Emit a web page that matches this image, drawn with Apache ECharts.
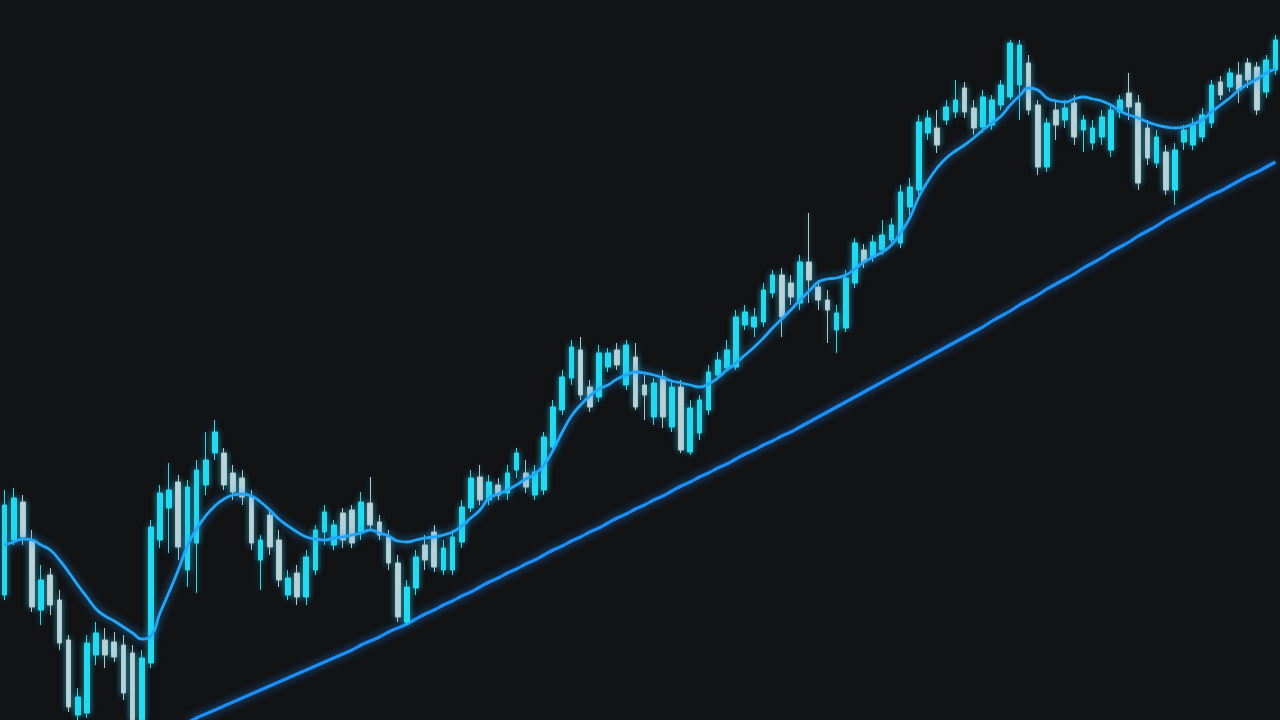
<!DOCTYPE html>
<html>
<head>
<meta charset="utf-8">
<style>
  html, body { margin: 0; padding: 0; background: #121315; }
  #chart { width: 1280px; height: 720px; }
</style>
<script src="https://cdn.jsdelivr.net/npm/echarts@6/dist/echarts.min.js"></script>
</head>
<body>
<div id="chart"></div>
<script>
// Candle values (price units)
const opens  = [125,180,218,180,110,145,120,80,5,7,65,80,78,75,67,0,57,180,212,238,150,177,235,267,267,247,242,223,160,205,180,125,147,123,150,188,175,207,210,188,217,198,183,157,98,132,175,188,150,150,178,212,243,220,
  235, 227,250,247,225,230,273,310,342, 370,333,323,353, 370,335,363,335,303,343,293,333,268,287,310, 345, 352,353,395,393,398,427,445,437,417,458,433,420,390,392,437, 470, 463,470, 480, 477,513,530,587,592,600,608,632,612,593,595, 615, 623,635,657,615,553,610, 600, 617,590,577,583,570, 608, 627, 617, 592,557,568,530,578,575,583,597, 638, 633,645,657,653,628,650];
const closes = [215,222,183,113,140,115,77,13,23,77,87,65,63,27,0,62,193,227,230,173,233,250,260,288,235,228,223,177,180,173,140,142,123,163,190,208,195,180,177,218,195,185,157,103,133,163,160,153,172,183,213,242,220,238,
  225, 247,267,233,248,283,313,343,373, 325,313,367,367, 355,375,313,325,337,303,333,270,312,320,348, 360, 370,403,408,403,430,445,403,423,458,440,420,410,407,442,477, 458, 478,485, 495, 528,533,598,602,575,613,620,608,592,623,620, 635, 677,675,610,553,597,595, 612, 583,600,592,603,610, 620, 613, 537, 562,583,530,570,590,595,605,635, 625, 647,630,640,610,660,680];
const lows   = [120,175,175,108,95,105,70,8,0,2,55,52,58,20,-2,-2,52,172,167,160,133,127,225,260,230,220,215,170,130,165,133,120,115,115,145,175,170,172,172,180,190,180,150,98,95,125,150,148,145,145,172,208,215,215,
  220, 220,242,227,220,225,268,305,335, 320,308,318,348, 350,330,310,300,295,292,288,267,265,280,305, 340, 348,350,390,383,393,422,383,415,410,417,410,377,367,388,432, 452, 458,465, 474, 472,505,525,580,567,595,602,602,585,587,590, 610, 620,600,605,545,548,580, 592, 575,568,570,575,563, 602, 600, 530, 555,552,525,515,570,570,578,592, 620, 628,617,632,605,622,645];
const highs  = [230,232,225,190,155,152,130,85,32,85,98,92,88,85,75,70,200,235,257,245,240,260,288,300,272,255,250,230,185,212,190,150,155,170,195,215,200,212,215,228,243,205,190,165,140,170,185,195,180,190,220,250,255,245,
  242, 255,272,260,255,288,320,350,380, 383,340,375,372, 377,380,377,345,342,350,340,340,320,325,355, 368, 380,410,415,412,437,450,452,445,465,507,440,430,415,450,482, 476, 485,500, 502, 535,542,605,610,610,620,640,638,620,630,625, 640, 680,680,665,620,602,620, 620, 625,605,600,610,615, 625, 647, 625, 600,590,575,577,595,602,612,640, 644, 652,658,662,658,665,685];

// Short moving average line
const maLine = [175,178,181,180,175,170,160,148,135,123,111,104,99,93,87,81,84,107,128,150,174,191,204,214,221,225,226,224,218,210,201,194,188,183,181,180,182,183,185,187,190,187,184,179,178,180,182,183,185,188,194,202,210,222,226,230,235,241,246,255,270,288,304,315,324,331,335,341,345,348,347,345,342,339,337,335,333,336,342,350,357,365,373,382,392,401,410,420,429,438,441,442,445,451,458,463,468,475,487,502,523,539,552,562,569,575,582,590,597,604,615,624,632,630,622,619,618,621,623,621,619,615,609,605,602,598,595,593,592,593,596,600,608,615,622,630,636,641,647,651];

// Long trend line (enters at candle 20)
const trendLine = [null,null,null,null,null,null,null,null,null,null,null,null,null,null,null,null,null,null,null,null,
  -3,2,6,10,14,18,22,26,30,34,38,42,46,50,54,58,62,66,70,75,79,83,88,92,96,101,106,110,115,119,124,128,133,138,142,147,151,156,160,165,170,174,179,183,188,192,197,202,206,211,215,220,224,229,234,238,243,247,252,256,261,266,270,275,279,284,288,293,298,303,308,313,318,323,328,333,338,343,348,353,358,363,368,373,378,383,388,393,399,404,409,415,420,425,431,436,441,446,452,457,462,468,473,478,484,489,494,500,505,510,515,520,525,529,534,539,544,548,553,558];

const categories = opens.map((_, i) => 'D' + (i + 1));
const candleData = opens.map((o, i) => [o, closes[i], lows[i], highs[i]]);

const chart = echarts.init(document.getElementById('chart'), null, { renderer: 'canvas' });
chart.setOption({
  backgroundColor: '#121315',
  animation: false,
  grid: { left: 0, right: 0, top: 0, bottom: 0 },
  xAxis: {
    type: 'category',
    data: categories,
    show: false,
    boundaryGap: true
  },
  yAxis: {
    type: 'value',
    min: 0,
    max: 720,
    show: false,
    splitLine: { show: false }
  },
  series: [
    {
      type: 'line',
      data: trendLine,
      showSymbol: false,
      smooth: true,
      z: 2,
      lineStyle: {
        color: '#1a8ff8',
        width: 3.2,
        shadowBlur: 8,
        shadowColor: 'rgba(30,140,255,0.8)'
      }
    },
    {
      type: 'candlestick',
      data: candleData,
      barWidth: '58%',
      z: 3,
      itemStyle: {
        color: '#24dcf2',
        color0: '#cdd5d8',
        borderColor: '#24dcf2',
        borderColor0: '#b9c4c9',
        borderWidth: 1,
        shadowBlur: 6,
        shadowColor: 'rgba(40,210,240,0.6)'
      }
    },
    {
      type: 'line',
      data: maLine,
      showSymbol: false,
      smooth: true,
      z: 4,
      lineStyle: {
        color: '#22a6f8',
        width: 2.8,
        shadowBlur: 9,
        shadowColor: 'rgba(30,160,255,0.85)'
      }
    }
  ]
});
</script>
</body>
</html>
